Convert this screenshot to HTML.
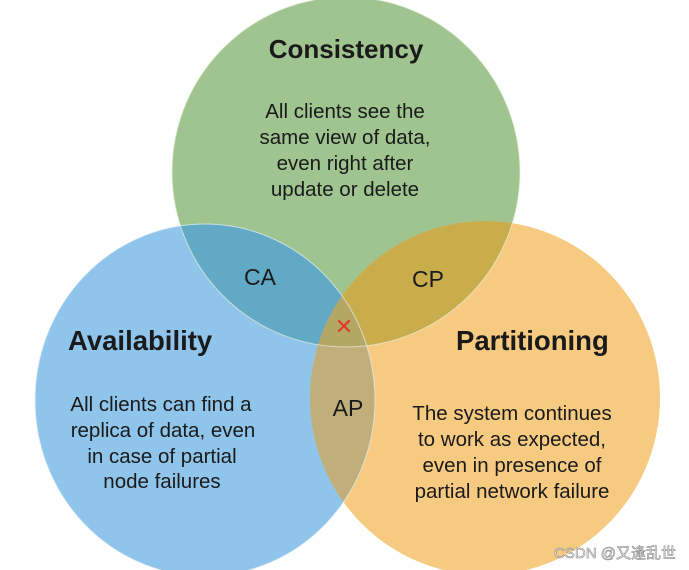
<!DOCTYPE html>
<html><head><meta charset="utf-8"><style>
html,body{margin:0;padding:0;background:#fff;}
svg{display:block;}
text{font-family:"Liberation Sans","Noto Sans CJK SC",sans-serif;fill:#1a1a1a;}
</style></head><body>
<svg width="689" height="570" viewBox="0 0 689 570" xmlns="http://www.w3.org/2000/svg">
<defs>
<clipPath id="cg"><ellipse cx="346" cy="172" rx="174" ry="175"/></clipPath>
<clipPath id="cb"><ellipse cx="205" cy="400" rx="170" ry="176"/></clipPath>
<clipPath id="co"><ellipse cx="485" cy="398" rx="175" ry="177"/></clipPath>
</defs>
<rect width="689" height="570" fill="#fff"/>
<ellipse cx="346" cy="172" rx="174" ry="175" fill="#9fc48f"/>
<ellipse cx="205" cy="400" rx="170" ry="176" fill="#8fc4eb"/>
<ellipse cx="485" cy="398" rx="175" ry="177" fill="#f6ca81"/>
<g clip-path="url(#cg)"><ellipse cx="205" cy="400" rx="170" ry="176" fill="#62a9c5"/></g>
<g clip-path="url(#cg)"><ellipse cx="485" cy="398" rx="175" ry="177" fill="#c9ad4d"/></g>
<g clip-path="url(#cb)"><ellipse cx="485" cy="398" rx="175" ry="177" fill="#c0af7b"/></g>
<g clip-path="url(#cg)"><g clip-path="url(#cb)"><ellipse cx="485" cy="398" rx="175" ry="177" fill="#b3a763"/></g></g>
<ellipse cx="346" cy="172" rx="174" ry="175" fill="none" stroke="#e8efd8" stroke-width="1" opacity="0.7"/>
<ellipse cx="205" cy="400" rx="170" ry="176" fill="none" stroke="#e3f0f8" stroke-width="1" opacity="0.7"/>

<text x="346" y="58" font-size="26" font-weight="bold" text-anchor="middle">Consistency</text>
<g font-size="20.5" text-anchor="middle">
<text x="345" y="118">All clients see the</text>
<text x="345" y="144">same view of data,</text>
<text x="345" y="170">even right after</text>
<text x="345" y="196">update or delete</text>
</g>
<text x="260" y="285" font-size="23" text-anchor="middle">CA</text>
<text x="428" y="287" font-size="23" text-anchor="middle">CP</text>
<text x="348" y="416" font-size="23" text-anchor="middle">AP</text>
<text x="344" y="334" font-size="22" text-anchor="middle" style="fill:#e0382a">✕</text>
<text x="68" y="350" font-size="27.5" font-weight="bold">Availability</text>
<text x="456" y="350" font-size="27.5" font-weight="bold">Partitioning</text>
<g font-size="20.5" text-anchor="middle">
<text x="161" y="411">All clients can find a</text>
<text x="163" y="437">replica of data, even</text>
<text x="162" y="463">in case of partial</text>
<text x="162" y="488">node failures</text>
<text x="512" y="420">The system continues</text>
<text x="512" y="446">to work as expected,</text>
<text x="512" y="472">even in presence of</text>
<text x="512" y="498">partial network failure</text>
</g>
<text x="676" y="558" font-size="15" text-anchor="end" style="fill:#f4f4f4;stroke:#777;stroke-width:0.5">CSDN @又逢乱世</text>
</svg>
</body></html>
